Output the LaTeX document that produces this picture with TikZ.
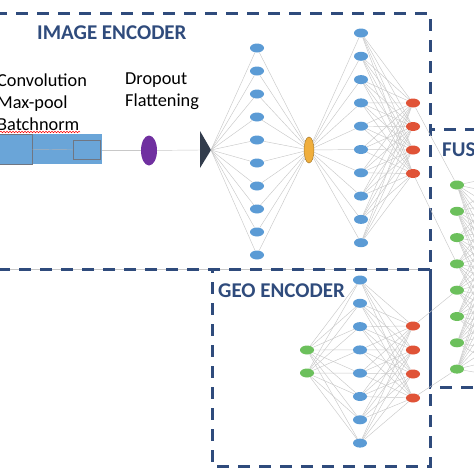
\documentclass[tikz,border=0pt]{standalone}
\usepackage{fontspec}
\setmainfont{Carlito}
\usetikzlibrary{shapes.geometric, decorations.pathmorphing}

\definecolor{boxblue}{HTML}{2F4B7C}
\definecolor{unitblue}{HTML}{5B9BD5}
\definecolor{unitred}{HTML}{E05337}
\definecolor{unitgreen}{HTML}{6CC05C}
\definecolor{convblue}{HTML}{6AA5D8}
\definecolor{dropviolet}{HTML}{7030A0}
\definecolor{flatgray}{HTML}{323C4C}
\definecolor{denseorange}{HTML}{F0AE3C}
\definecolor{linkgray}{HTML}{C8C8C8}

\begin{document}
\begin{tikzpicture}[x=1pt, y=-1pt,
    boxline/.style={draw=boxblue, line width=3pt, dash pattern=on 12pt off 9pt},
    link/.style={draw=linkgray, line width=0.45pt},
    unit/.style={ellipse, minimum width=14pt, minimum height=9pt, inner sep=0pt},
    blueunit/.style={unit, fill=unitblue},
    redunit/.style={unit, fill=unitred},
    greenunit/.style={unit, fill=unitgreen},
    title/.style={text=boxblue, font=\fontsize{21}{24}\selectfont\bfseries, inner sep=0pt},
    step text/.style={font=\fontsize{18.3}{22}\selectfont, align=left, inner sep=0pt}
]
\useasboundingbox (0,0) rectangle (474,474);
\clip (0,0) rectangle (474,474);

% encoder boxes
\draw[link] (0,269) -- (430,269);
\draw[boxline] (-5,13) -- (430,13) -- (430,269);
\draw[boxline] (430,269) -- (-5,269);
\draw[boxline] (430,269) -- (212,269) -- (212,466) -- (430,466) -- cycle;
\draw[boxline, dash phase=18pt] (480,129) -- (430,129) -- (430,387) -- (480,387);
\draw[draw=boxblue, line width=3pt] (430,269) -- (430,387);

\node[title, anchor=west] (imgtitle) at (37,33) {IMAGE ENCODER};
\node[title, anchor=west] (geotitle) at (218,291) {GEO ENCODER};
\node[title, anchor=west] (fustitle) at (442,150) {FUSION};

% convolution block
\node[step text, anchor=west] (convtext) at (-3,102) {Convolution\\Max-pool\\Batchnorm};
\draw[red, line width=0.5pt, decorate, decoration={snake, amplitude=0.8pt, segment length=3pt}] (0,132) -- (80,132);
\node[draw=none, fill=convblue, minimum width=106pt, minimum height=30pt, inner sep=0pt] (conv) at (49,149) {};
\node[draw=flatgray!70, fill=convblue, line width=0.6pt, minimum width=34pt, minimum height=30pt, inner sep=0pt] (convA) at (15,149) {};
\node[draw=flatgray!70, fill=convblue, line width=0.6pt, minimum width=27pt, minimum height=19pt, inner sep=0pt] (convB) at (86.5,150) {};
\draw[link, draw=flatgray!40] (convA) -- (convB);

\node[step text, anchor=west] (droptext) at (125,91) {Dropout\\Flattening};
\node[ellipse, fill=dropviolet, minimum width=16pt, minimum height=30pt, inner sep=0pt] (drop) at (149,150.5) {};
\coordinate (flatin) at (200,150);
\coordinate (flat) at (211,150);
\fill[flatgray] (200,131) -- (flat) -- (200,168) -- cycle;
\draw[link] (conv.east |- drop) -- (drop);
\draw[link] (drop) -- (flatin);

% image dense layers
\node[ellipse, fill=denseorange, draw=denseorange!70!black, line width=0.5pt, minimum width=10pt, minimum height=26pt, inner sep=0pt] (dense) at (309,150) {};
\foreach \i in {1,...,10} {
  \node[blueunit] (a\i) at (257, {48+23*(\i-1)}) {};
  \node[blueunit] (b\i) at (361, {33+23.3*(\i-1)}) {};
}
\foreach \j in {1,...,4}
  \node[redunit] (r\j) at (413, {103+23.5*(\j-1)}) {};
\foreach \i in {1,...,10} {
  \draw[link] (flat) -- (a\i);
  \draw[link] (a\i) -- (dense);
  \draw[link] (dense) -- (b\i);
  \foreach \j in {1,...,4}
    \draw[link] (b\i) -- (r\j);
}

% geo layers
\foreach \k in {1,2}
  \node[greenunit] (p\k) at (307, {350+23*(\k-1)}) {};
\foreach \i in {1,...,8}
  \node[blueunit] (c\i) at (360, {280+23.3*(\i-1)}) {};
\foreach \j in {1,...,4}
  \node[redunit] (s\j) at (413, {326+24*(\j-1)}) {};
\foreach \i in {1,...,8} {
  \foreach \k in {1,2}
    \draw[link] (p\k) -- (c\i);
  \foreach \j in {1,...,4}
    \draw[link] (c\i) -- (s\j);
}

% fusion layer
\foreach \m in {1,...,8}
  \node[greenunit] (g\m) at (457, {185+26.3*(\m-1)}) {};
\foreach \n in {1,...,9}
  \coordinate (h\n) at (520, {172+26*(\n-1)});
\foreach \m in {1,...,8}
  \foreach \n in {1,...,9}
    \draw[link] (g\m) -- (h\n);
\draw[link] (r1) -- (g1);
\draw[link] (r4) -- (g4);
\draw[link] (s1) -- (g5);
\draw[link] (s4) -- (g8);

\end{tikzpicture}
\end{document}
